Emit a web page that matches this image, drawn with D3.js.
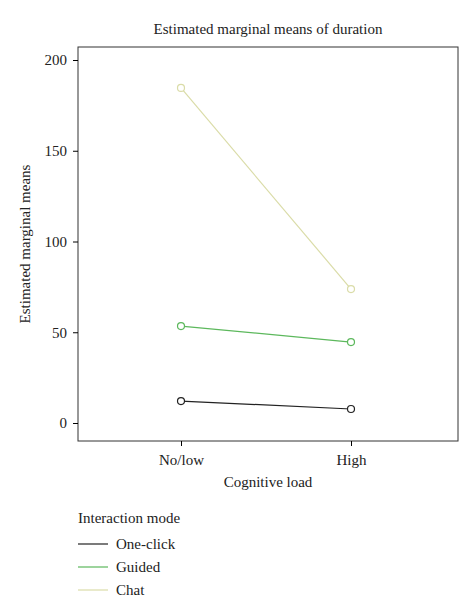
<!DOCTYPE html>
<html><head><meta charset="utf-8">
<script src="https://cdn.jsdelivr.net/npm/d3@7"></script>
<style>body{margin:0;background:#fff}text{font-family:"Liberation Serif",serif;fill:#222}</style>
</head><body><div data-d3="chart"></div>
<script>
const loads = ['No/low', 'High']
const modes = ['One-click', 'Guided', 'Chat']
const oneClick = [12.1, 7.7]
const guided = [53.4, 44.6]
const chat = [184.6, 73.8]
const yTicks = [0, 50, 100, 150, 200]
const colors = ['#222222', '#5cb85c', '#dadca8']

const W = 474, H = 611
const svg = d3.select('[data-d3="chart"]').append('svg').attr('width', W).attr('height', H)
const x = d3.scalePoint().domain(loads).range([181, 351])
const y = d3.scaleLinear().domain([0, 200]).range([423, 60])

svg.append('rect').attr('x', 78).attr('y', 47).attr('width', 380).attr('height', 394)
  .attr('fill', 'none').attr('stroke', '#333').attr('stroke-width', 1)
svg.append('text').attr('x', 268).attr('y', 34).attr('text-anchor', 'middle')
  .attr('font-size', 15).text('Estimated marginal means of duration')

svg.append('g').attr('transform', 'translate(78,0)')
  .call(d3.axisLeft(y).tickValues(yTicks).tickSize(5).tickPadding(6))
  .call(g => g.select('.domain').remove())
  .call(g => g.selectAll('text').attr('font-size', 15).attr('font-family', '"Liberation Serif",serif'))
svg.append('g').attr('transform', 'translate(0,441)')
  .call(d3.axisBottom(x).tickSize(5).tickPadding(8))
  .call(g => g.select('.domain').remove())
  .call(g => g.selectAll('text').attr('font-size', 15).attr('font-family', '"Liberation Serif",serif'))

svg.append('text').attr('x', 268).attr('y', 487).attr('text-anchor', 'middle')
  .attr('font-size', 15).text('Cognitive load')
svg.append('text').attr('transform', 'translate(30,244) rotate(-90)').attr('text-anchor', 'middle')
  .attr('font-size', 15).text('Estimated marginal means')

const series = [oneClick, guided, chat]
const line = d3.line().x((d, i) => x(loads[i])).y(d => y(d))
series.forEach((s, k) => {
  const g = svg.append('g')
  g.append('path').attr('d', line(s)).attr('fill', 'none').attr('stroke', colors[k]).attr('stroke-width', 1.2)
  g.selectAll('circle').data(s).enter().append('circle')
    .attr('cx', (d, i) => x(loads[i])).attr('cy', d => y(d)).attr('r', 3.5)
    .attr('fill', '#fff').attr('stroke', colors[k]).attr('stroke-width', 1.2)
})

svg.append('text').attr('x', 78).attr('y', 523).attr('font-size', 15).text('Interaction mode')
const leg = svg.append('g').selectAll('g').data(modes).enter().append('g')
  .attr('transform', (d, i) => `translate(78,${544 + i * 23})`)
leg.append('line').attr('x1', 0).attr('x2', 30).attr('stroke', (d, i) => colors[i]).attr('stroke-width', 1.2)
leg.append('text').attr('x', 38).attr('y', 5).attr('font-size', 15).text(d => d)
</script></body></html>
